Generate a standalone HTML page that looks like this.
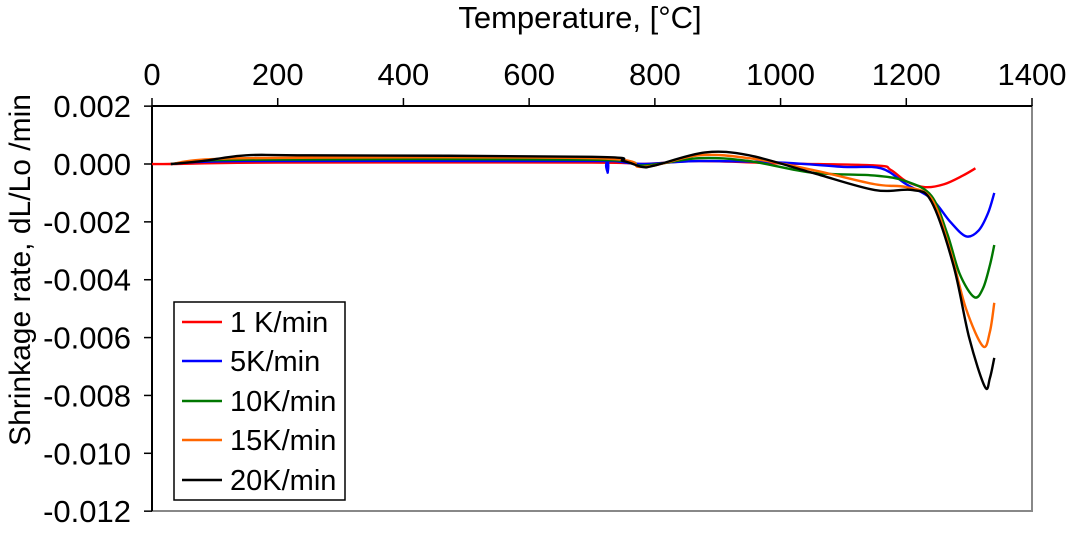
<!DOCTYPE html><html><head><style>body{margin:0;background:#fff}svg{font-family:"Liberation Sans",Arial,sans-serif}</style></head><body>
<svg id="s" width="1068" height="528" xmlns="http://www.w3.org/2000/svg">
<text x="580" y="28" font-size="31" text-anchor="middle">Temperature, [°C]</text>
<text transform="translate(30,270) rotate(-90)" font-size="30" text-anchor="middle">Shrinkage rate, dL/Lo /min</text>
<rect x="152" y="106" width="880" height="405" fill="none" stroke="#888" stroke-width="2"/>
<line x1="152" y1="106" x2="1032" y2="106" stroke="#000" stroke-width="2"/>
<line x1="152" y1="106" x2="152" y2="511" stroke="#000" stroke-width="2"/>
<g id="ax" font-size="31"></g>
<g id="cv" fill="none" stroke-width="2.4"></g>
<rect x="174" y="302" width="171" height="198" fill="#fff" stroke="#000" stroke-width="1.5"/>
<g font-size="29">
<line x1="182" x2="222" y1="322" y2="322" stroke="#f00" stroke-width="2.4"/><text x="230" y="332">1 K/min</text>
<line x1="182" x2="222" y1="361" y2="361" stroke="#00f" stroke-width="2.4"/><text x="230" y="371">5K/min</text>
<line x1="182" x2="222" y1="401" y2="401" stroke="#070" stroke-width="2.4"/><text x="230" y="411">10K/min</text>
<line x1="182" x2="222" y1="440" y2="440" stroke="#f60" stroke-width="2.4"/><text x="230" y="450">15K/min</text>
<line x1="182" x2="222" y1="480" y2="480" stroke="#000" stroke-width="2.4"/><text x="230" y="490">20K/min</text>
</g>
</svg>
<script>
var X=t=>152+t*880/1400, Y=v=>164-v*57.86/0.002;
var ax=document.getElementById('ax'),h='';
for(var t=0;t<=1400;t+=200){var x=X(t);h+=`<line x1="${x}" x2="${x}" y1="98" y2="106" stroke="#000" stroke-width="1.5"/><text x="${x}" y="85" text-anchor="middle">${t}</text>`;}
for(var i=0;i<=7;i++){var v=0.002-i*0.002,y=Y(v);h+=`<line x1="144" x2="152" y1="${y}" y2="${y}" stroke="#000" stroke-width="1.5"/><text x="131" y="${y+11}" text-anchor="end">${v.toFixed(3).replace('-0.000','0.000')}</text>`;}
ax.innerHTML=h;
var D={
'#f00':[[0,0],[30,0],[200,0.00005],[700,0.00005],[780,0],[870,0.0001],[1000,0.00002],[1150,-0.00005],[1175,-0.0002],[1200,-0.0006],[1230,-0.0008],[1260,-0.0007],[1290,-0.0004],[1310,-0.00015]],
'#00f':[[30,0],[150,0.0001],[700,0.0001],[724,0.0001],[725,-0.0003],[727,0.0001],[780,0],[870,0.0001],[1000,0.00005],[1100,-0.0001],[1160,-0.00015],[1200,-0.0007],[1240,-0.0012],[1270,-0.002],[1295,-0.0025],[1315,-0.0023],[1330,-0.0017],[1340,-0.001]],
'#070':[[30,0],[150,0.00015],[700,0.00015],[780,-0.00005],[870,0.0002],[950,0.0001],[1050,-0.0003],[1150,-0.0004],[1200,-0.0006],[1240,-0.0011],[1265,-0.0024],[1285,-0.0038],[1308,-0.0046],[1322,-0.0043],[1333,-0.0035],[1340,-0.0028]],
'#f60':[[30,0],[150,0.0002],[700,0.0002],[780,-0.0001],[870,0.0003],[950,0.0002],[1050,-0.0002],[1150,-0.0007],[1200,-0.0008],[1240,-0.0012],[1270,-0.003],[1295,-0.005],[1322,-0.0063],[1333,-0.0058],[1340,-0.0048]],
'#000':[[30,0],[80,0.0001],[150,0.0003],[250,0.0003],[700,0.00025],[750,0.0001],[780,-0.0001],[800,-0.00005],[880,0.0004],[950,0.0003],[1050,-0.0003],[1150,-0.0009],[1210,-0.0009],[1240,-0.0013],[1275,-0.0035],[1300,-0.006],[1325,-0.0077],[1333,-0.0074],[1340,-0.0067]]};
function path(pts){var P=pts.map(p=>[X(p[0]),Y(p[1])]),d='M'+P[0];
for(var i=0;i<P.length-1;i++){var p0=P[i-1]||P[i],p1=P[i],p2=P[i+1],p3=P[i+2]||p2;
var c1=[p1[0]+(p2[0]-p0[0])/6,p1[1]+(p2[1]-p0[1])/6],c2=[p2[0]-(p3[0]-p1[0])/6,p2[1]-(p3[1]-p1[1])/6];
d+=' C'+c1+' '+c2+' '+p2;}return d;}
var c='';for(var k in D){c+=`<path stroke="${k}" stroke-linejoin="round" d="${path(D[k])}"/>`;}
document.getElementById('cv').innerHTML=c;
</script></body></html>
